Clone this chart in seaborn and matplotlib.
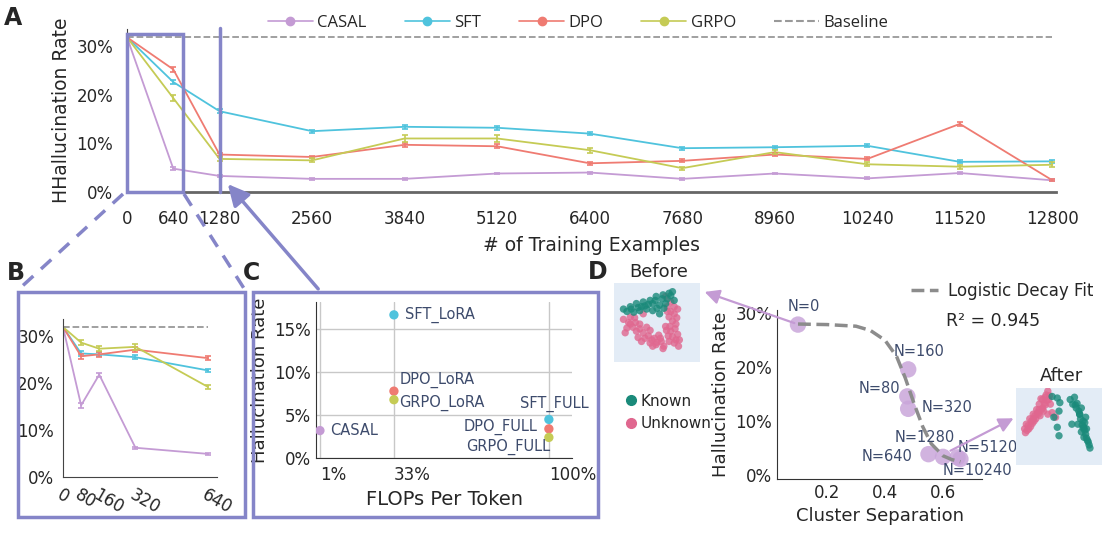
import numpy as np
import pandas as pd
import matplotlib.pyplot as plt
import seaborn as sns
from matplotlib.lines import Line2D
from matplotlib.patches import Rectangle, FancyArrowPatch

sns.set_style("white")
plt.rcParams['font.family'] = ['DejaVu Sans']

# ---- Panel A: hallucination rate (%) vs number of training examples
steps = [0, 640, 1280, 2560, 3840, 5120, 6400, 7680, 8960, 10240, 11520, 12800]
casal = [31.8, 4.8, 3.3, 2.7, 2.7, 3.8, 4.0, 2.7, 3.8, 2.8, 3.9, 2.4]
sft = [31.8, 22.6, 16.6, 12.5, 13.4, 13.2, 12.0, 9.0, 9.2, 9.5, 6.2, 6.3]
dpo = [31.8, 25.2, 7.7, 7.2, 9.7, 9.4, 5.9, 6.4, 7.7, 6.8, 14.0, 2.4]
grpo = [31.8, 19.3, 6.8, 6.5, 11.0, 11.0, 8.6, 4.9, 8.2, 5.7, 5.2, 5.6]
casal_err = [0.0, 0.3, 0.2, 0.2, 0.2, 0.2, 0.2, 0.2, 0.2, 0.2, 0.2, 0.2]
sft_err = [0.0, 0.4, 0.4, 0.3, 0.4, 0.4, 0.3, 0.3, 0.3, 0.3, 0.3, 0.3]
dpo_err = [0.0, 0.5, 0.3, 0.3, 0.4, 0.4, 0.3, 0.3, 0.4, 0.3, 0.4, 0.2]
grpo_err = [0.0, 0.6, 0.4, 0.4, 0.7, 0.7, 0.5, 0.3, 0.4, 0.4, 0.4, 0.5]
baseline = 31.8

# ---- Panel B: zoom on the first 640 examples
zoom_steps = [0, 80, 160, 320, 640]
casal_b = [31.8, 15.2, 21.7, 6.2, 4.9]
sft_b = [31.8, 26.2, 26.0, 25.4, 22.6]
dpo_b = [31.8, 25.6, 26.0, 27.0, 25.2]
grpo_b = [31.8, 28.5, 27.2, 27.6, 19.1]
casal_b_err = [0.0, 0.5, 0.4, 0.2, 0.2]
sft_b_err = [0.0, 0.5, 0.4, 0.4, 0.4]
dpo_b_err = [0.0, 0.5, 0.5, 0.5, 0.4]
grpo_b_err = [0.0, 0.6, 0.5, 0.6, 0.5]

# ---- Panel C: cost vs hallucination
c_methods = ['CASAL', 'SFT_LoRA', 'DPO_LoRA', 'GRPO_LoRA', 'SFT_FULL', 'DPO_FULL', 'GRPO_FULL']
c_family = ['CASAL', 'SFT', 'DPO', 'GRPO', 'SFT', 'DPO', 'GRPO']
c_flops = [1, 33, 33, 33, 100, 100, 100]
c_rate = [3.2, 16.7, 7.8, 6.8, 4.5, 3.4, 2.4]

# ---- Panel D: cluster separation vs hallucination
d_labels = ['N=0', 'N=80', 'N=160', 'N=320', 'N=640', 'N=1280', 'N=5120', 'N=10240']
d_sep = [0.10, 0.477, 0.48, 0.48, 0.55, 0.60, 0.65, 0.66]
d_rate = [27.9, 14.6, 19.6, 12.3, 3.9, 3.4, 3.3, 3.0]
fit_x = [0.10, 0.20, 0.30, 0.35, 0.40, 0.44, 0.47, 0.50, 0.53, 0.56, 0.60, 0.63, 0.66]
fit_y = [28.0, 27.9, 27.6, 26.8, 25.0, 22.0, 18.0, 13.3, 9.0, 5.8, 3.6, 2.9, 2.5]
r2 = 0.945

# inset point clouds (inset units 0-100)
before_known_x = [11, 19, 26, 34, 42, 49, 57, 64, 68, 38, 45, 53, 30, 23, 60, 53, 70, 45, 36, 62, 15, 28,
                  40, 48, 56, 66, 32, 20, 58, 50]
before_known_y = [67, 70, 74, 76, 78, 83, 85, 87, 89, 67, 65, 61, 65, 63, 74, 72, 78, 74, 71, 80, 64, 69,
                  73, 78, 80, 84, 70, 67, 68, 68]
before_unk_x = [11, 15, 13, 19, 25, 30, 26, 34, 32, 40, 42, 47, 49, 55, 57, 60, 62, 66, 64, 70, 72, 66,
                74, 70, 75, 64, 68, 74, 34, 19, 22, 38, 52, 60, 72, 68, 28, 45, 30, 36, 44, 50, 62, 66,
                70, 73, 61, 17, 24, 42, 54, 58, 65, 71, 76, 63]
before_unk_y = [54, 43, 37, 57, 50, 48, 39, 37, 26, 33, 24, 30, 22, 26, 17, 83, 70, 76, 57, 61, 48, 39,
                35, 24, 20, 26, 52, 67, 61, 48, 44, 44, 34, 45, 28, 32, 31, 20, 42, 30, 28, 25, 64, 64,
                70, 56, 40, 50, 56, 40, 30, 20, 45, 42, 28, 33]
after_unk_x = [10, 12, 16, 20, 24, 27, 31, 35, 37, 14, 18, 22, 25, 31, 33, 38, 40, 37, 42, 46, 29, 34, 20, 27,
               11, 15, 19, 23, 26, 30, 34, 36, 13, 17, 21, 28, 32, 39]
after_unk_y = [47, 53, 60, 66, 72, 79, 85, 91, 96, 51, 57, 64, 68, 74, 80, 85, 79, 66, 68, 62, 86, 88, 60, 72,
               42, 47, 54, 60, 66, 72, 78, 84, 45, 50, 57, 64, 70, 90]
after_known_x = [63, 66, 70, 74, 78, 79, 81, 83, 85, 76, 81, 72, 76, 79, 48, 51, 50, 44, 48, 50, 65, 42, 68, 82,
                 71, 73, 75, 77, 80, 82, 84, 69, 74, 78, 86, 80]
after_known_y = [85, 79, 74, 66, 57, 49, 40, 32, 26, 74, 62, 53, 43, 36, 87, 81, 70, 62, 49, 38, 53, 89, 88, 47,
                 80, 70, 60, 52, 45, 35, 30, 78, 66, 48, 22, 55]

palette = {'CASAL': '#c49bd4', 'SFT': '#4fc3dd', 'DPO': '#ef7b72', 'GRPO': '#c5cb55'}
frame_col = '#8585c8'
note_col = '#3d4b6c'
known_col = '#1a8a7a'
unknown_col = '#e0678f'

W, H = 1107, 540


def box(x0, y0, x1, y1):
    # pixel box -> figure fraction [left, bottom, width, height]
    return [x0 / W, 1 - y1 / H, (x1 - x0) / W, (y1 - y0) / H]


def fp(x, y):
    return (x / W, 1 - y / H)


fig = plt.figure(figsize=(11.07, 5.40), dpi=100)

# ================= Panel A =================
ax_a = fig.add_axes(box(127, 29, 1056, 192))
series_a = {'CASAL': (casal, casal_err), 'SFT': (sft, sft_err),
            'DPO': (dpo, dpo_err), 'GRPO': (grpo, grpo_err)}
df_a = pd.DataFrame({
    'step': steps * 4,
    'rate': casal + sft + dpo + grpo,
    'method': sum([[k] * len(steps) for k in series_a], []),
})
sns.lineplot(data=df_a, x='step', y='rate', hue='method', palette=palette,
             ax=ax_a, legend=False, lw=1.3)
for name, (vals, errs) in series_a.items():
    ax_a.errorbar(steps, vals, yerr=errs, fmt='none', ecolor=palette[name],
                  capsize=2.5, elinewidth=1.2, capthick=1.2)
ax_a.plot([0, 12800], [baseline, baseline], color='#999999', ls='--', lw=1.3)
ax_a.set_xlim(0, 12850)
ax_a.set_ylim(0, 33.5)
ax_a.set_xticks(steps)
ax_a.set_xticklabels([str(s) for s in steps], fontsize=12)
ax_a.set_yticks([0, 10, 20, 30])
ax_a.set_yticklabels(['0%', '10%', '20%', '30%'], fontsize=12)
ax_a.set_xlabel('# of Training Examples', fontsize=13.5, labelpad=6)
ax_a.set_ylabel('HHallucination Rate', fontsize=13.5, labelpad=4)
sns.despine(ax=ax_a)
ax_a.spines['left'].set_color('#444444')
ax_a.spines['bottom'].set_color('#666666')
ax_a.spines['bottom'].set_linewidth(2)
ax_a.tick_params(axis='x', length=4, color='#444444', pad=9)
ax_a.tick_params(axis='y', length=0, pad=10)

leg_handles = [Line2D([], [], color=palette[k], marker='o', ms=6, lw=1.2, label=k) for k in palette]
leg_handles.append(Line2D([], [], color='#999999', ls='--', lw=1.5, label='Baseline'))
fig.legend(handles=leg_handles, loc='center', bbox_to_anchor=fp(578, 23), ncol=5,
           frameon=False, prop={'family': 'Open Sans', 'size': 12}, columnspacing=2.3,
           handlelength=2.7, handletextpad=0.25)

# zoom rectangle, 1280 marker, connectors
fig.add_artist(Rectangle(fp(127, 192), 56 / W, 158 / H, transform=fig.transFigure,
                         fill=False, ec=frame_col, lw=2.5))
fig.add_artist(Line2D([220 / W, 220 / W], [1 - 28 / H, 1 - 192 / H], transform=fig.transFigure,
                      color=frame_col, lw=2.5))
for (x0, y0), (x1, y1) in [((123, 194), (18, 290)), ((184, 194), (245, 290))]:
    fig.add_artist(Line2D([x0 / W, x1 / W], [1 - y0 / H, 1 - y1 / H], transform=fig.transFigure,
                          color=frame_col, lw=2.5, ls=(0, (4, 3))))
fig.add_artist(FancyArrowPatch(fp(320, 291), fp(226, 182), transform=fig.transFigure,
                               arrowstyle='-|>', mutation_scale=32, color=frame_col, lw=2.5))

# ================= Panel B =================
fig.add_artist(Rectangle(fp(18, 517), 227 / W, 225 / H, transform=fig.transFigure,
                         fill=False, ec=frame_col, lw=2.5))
ax_b = fig.add_axes(box(63, 319, 217, 477))
ax_b.set_facecolor('none')
series_b = {'CASAL': (casal_b, casal_b_err), 'SFT': (sft_b, sft_b_err),
            'DPO': (dpo_b, dpo_b_err), 'GRPO': (grpo_b, grpo_b_err)}
for name, (vals, errs) in series_b.items():
    sns.lineplot(x=zoom_steps, y=vals, color=palette[name], lw=1.3, ax=ax_b)
    ax_b.errorbar(zoom_steps, vals, yerr=errs, fmt='none', ecolor=palette[name],
                  capsize=2.5, elinewidth=1.2, capthick=1.2)
ax_b.plot([0, 640], [baseline, baseline], color='#999999', ls='--', lw=1.3)
ax_b.set_xlim(0, 680)
ax_b.set_ylim(0, 33.5)
ax_b.set_xticks(zoom_steps)
ax_b.set_xticklabels([str(s) for s in zoom_steps], fontsize=12, rotation=-30,
                     ha='left', rotation_mode='anchor')
ax_b.set_yticks([0, 10, 20, 30])
ax_b.set_yticklabels(['0%', '10%', '20%', '30%'], fontsize=12)
sns.despine(ax=ax_b)
for s in ['left', 'bottom']:
    ax_b.spines[s].set_color('#444444')
ax_b.tick_params(length=3, color='#444444')

# ================= Panel C =================
fig.add_artist(Rectangle(fp(253, 517), 345 / W, 225 / H, transform=fig.transFigure,
                         fill=False, ec=frame_col, lw=2.5))
ax_c = fig.add_axes(box(316, 302, 572, 458))
ax_c.set_facecolor('none')
df_c = pd.DataFrame({'flops': c_flops, 'rate': c_rate, 'family': c_family, 'name': c_methods})
sns.scatterplot(data=df_c, x='flops', y='rate', hue='family', palette=palette, s=45,
                edgecolor='none', legend=False, ax=ax_c, zorder=3)
offsets_c = {'CASAL': (7, 0, 'left'), 'SFT_LoRA': (8, 0, 'left'),
             'DPO_LoRA': (4, 8, 'left'), 'GRPO_LoRA': (4, -2, 'left'),
             'SFT_FULL': (4, 11, 'center'), 'DPO_FULL': (-8, 1.5, 'right'),
             'GRPO_FULL': (1, -7, 'right')}
for name, xv, yv in zip(c_methods, c_flops, c_rate):
    dx, dy, ha = offsets_c[name]
    ax_c.annotate(name, (xv, yv), xytext=(dx, dy), textcoords='offset points',
                  ha=ha, va='center', fontsize=10.5, color=note_col)
ax_c.set_xlim(-0.7, 110)
ax_c.set_ylim(0, 18.2)
ax_c.set_xticks([1, 33, 100])
ax_c.set_xticklabels(['1%', '33%', '100%'], fontsize=12, ha='left')
ax_c.set_yticks([0, 5, 10, 15])
ax_c.set_yticklabels(['0%', '5%', '10%', '15%'], fontsize=12)
ax_c.grid(True, color='#c8c8c8', lw=1)
ax_c.set_axisbelow(True)
ax_c.set_xlabel('FLOPs Per Token', fontsize=14)
ax_c.set_ylabel('Hallucination Rate', fontsize=13)
sns.despine(ax=ax_c)
for s in ['left', 'bottom']:
    ax_c.spines[s].set_color('#333333')
ax_c.tick_params(length=0)
ax_c.tick_params(axis='x', pad=6)

# ================= Panel D =================
ax_d = fig.add_axes(box(777, 310, 982, 479))
ax_d.set_facecolor('none')
sns.scatterplot(x=d_sep, y=d_rate, s=140, color='#c9a6da', alpha=0.85, edgecolor='none',
                ax=ax_d, zorder=2)
ax_d.plot(fit_x, fit_y, color='#8c8c8c', ls='--', lw=2.5, zorder=3)
offsets_d = [(4, 13), (-20, 6), (8, 13), (28, 1), (-30, -2), (-13, 14), (22, 7), (12, -8)]
for lab, xv, yv, (dx, dy) in zip(d_labels, d_sep, d_rate, offsets_d):
    ax_d.annotate(lab, (xv, yv), xytext=(dx, dy), textcoords='offset points',
                  ha='center', va='center', fontsize=10.5, color=note_col)
ax_d.set_xlim(0.0276, 0.7345)
ax_d.set_ylim(-0.7, 30.6)
ax_d.set_xticks([0.2, 0.4, 0.6])
ax_d.set_xticklabels(['0.2', '0.4', '0.6'], fontsize=12)
ax_d.set_yticks([0, 10, 20, 30])
ax_d.set_yticklabels(['0%', '10%', '20%', '30%'], fontsize=12)
ax_d.set_xlabel('Cluster Separation', fontsize=13)
ax_d.set_ylabel('Hallucination Rate', fontsize=13)
sns.despine(ax=ax_d)
for s in ['left', 'bottom']:
    ax_d.spines[s].set_color('#333333')
ax_d.tick_params(length=0)
ax_d.legend(handles=[Line2D([], [], color='#8c8c8c', ls='--', lw=2.5, label='Logistic Decay Fit')],
            loc='center', bbox_to_anchor=fp(1002, 291), bbox_transform=fig.transFigure,
            frameon=False, fontsize=12, handlelength=1.6, handletextpad=0.6)
fig.text(*fp(993, 321), f'R² = {r2}', ha='center', va='center', fontsize=12.5)

# insets
for bx, kx, ky, ux, uy, title, tpos in [
        ((614, 283, 700, 362), before_known_x, before_known_y, before_unk_x, before_unk_y, 'Before', (659, 272)),
        ((1016, 388, 1102, 465), after_known_x, after_known_y, after_unk_x, after_unk_y, 'After', (1061, 376))]:
    ax_i = fig.add_axes(box(*bx))
    ax_i.set_facecolor('#e3ecf6')
    sns.scatterplot(x=ux, y=uy, color=unknown_col, s=28, alpha=0.8, edgecolor='none', ax=ax_i)
    sns.scatterplot(x=kx, y=ky, color=known_col, s=28, alpha=0.8, edgecolor='none', ax=ax_i)
    ax_i.set_xlim(0, 100)
    ax_i.set_ylim(0, 100)
    ax_i.set_xticks([])
    ax_i.set_yticks([])
    for s in ax_i.spines.values():
        s.set_visible(False)
    fig.text(*fp(*tpos), title, ha='center', va='center', fontsize=13)

fig.legend(handles=[Line2D([], [], marker='o', ls='', color=known_col, ms=7, label='Known'),
                    Line2D([], [], marker='o', ls='', color=unknown_col, ms=7, label='Unknown')],
           loc='upper left', bbox_to_anchor=fp(610, 380), frameon=False, fontsize=11,
           handletextpad=0.1, handlelength=1, labelspacing=0.5)

for a, b in [((797, 324), (702, 291)), ((948, 452), (1016, 417))]:
    fig.add_artist(FancyArrowPatch(fp(*a), fp(*b), transform=fig.transFigure, arrowstyle='-|>',
                                   mutation_scale=22, color='#c49bd4', lw=1.6))

# panel letters
for letter, (x, y) in {'A': (13, 18), 'B': (16, 273), 'C': (252, 273), 'D': (598, 272)}.items():
    fig.text(*fp(x, y), letter, ha='center', va='center', fontsize=17, fontweight='bold')

fig.savefig('out.png', dpi=100)
